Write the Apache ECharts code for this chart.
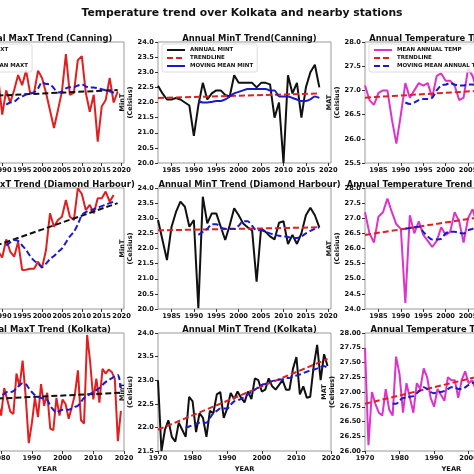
<!DOCTYPE html>
<html><head><meta charset="utf-8">
<script src="https://cdn.jsdelivr.net/npm/echarts@6/dist/echarts.min.js"></script>
<style>html,body{margin:0;padding:0;background:#fff;overflow:hidden;width:474px;height:474px;position:relative}#c{position:absolute;left:-70px;top:0;width:620px;height:474px}</style>
</head><body><div id="c"></div>
<script>
// ---- data (values per year) ----
const canMaxStart = 1982;
const canMax = [32.0,32.4,31.9,32.2,32.5,31.8,32.1,32.6,31.7,32.3,32.0,32.31,32.68,32.43,32.79,32.24,32.24,32.79,32.61,32.24,31.81,31.37,31.81,32.27,33.2,32.19,32.24,33.05,33.15,32.24,31.77,32.19,31.03,31.9,32.06,32.61,32.0,32.27];
const canMaxMMStart = 1991;
const canMaxMM = [31.95,32.0,32.02,32.1,32.15,32.2,32.22,32.25,32.35,32.5,32.46,32.45,32.35,32.25,32.27,32.35,32.38,32.38,32.42,32.45,32.4,32.37,32.37,32.35,32.33,32.3,32.28,32.25,32.27];
const canMaxTrend = [[1982,32.14],[2019,32.31]];

const canMinStart = 1982;
const canMin = [22.55,22.3,22.1,22.1,22.15,22.1,22.0,21.9,20.9,21.9,22.65,22.1,22.3,22.4,22.4,22.25,22.2,22.9,22.65,22.65,22.65,22.65,22.5,22.65,22.65,22.6,21.5,22.0,20.0,22.9,22.3,22.65,21.5,22.5,23.0,23.25,22.5];
const canMinMMStart = 1991;
const canMinMM = [22.05,22.0,22.0,22.02,22.05,22.05,22.1,22.2,22.3,22.35,22.4,22.45,22.45,22.45,22.45,22.45,22.4,22.4,22.2,22.2,22.2,22.15,22.1,22.05,22.05,22.1,22.2,22.15];
const canMinTrend = [[1982,22.15],[2018,22.3]];

const canMatStart = 1982;
const canMat = [27.1,26.8,26.7,26.95,27.0,27.0,26.4,25.9,26.5,27.15,26.85,27.0,27.15,27.1,27.15,26.85,27.3,27.35,27.2,27.2,27.1,26.8,26.85,27.45,27.3,27.0,27.2,26.9,27.1,27.3,26.8,27.0,27.2,27.4,26.9,27.1,27.2];
const canMatMMStart = 1991;
const canMatMM = [26.75,26.72,26.75,26.8,26.82,26.82,26.85,27.0,27.1,27.12,27.15,27.12,27.1,27.1,27.12,27.12,27.1,27.1,27.12,27.12,27.1,27.1,27.12,27.1,27.1,27.12,27.12,27.13];
const canMatTrend = [[1982,26.85],[2018,27.05]];

const dhMaxStart = 1982;
const dhMax = [31.5,32.0,31.2,31.8,31.6,32.1,31.4,31.9,31.7,32.3,31.9,31.73,32.22,31.29,31.3,31.33,31.33,31.56,31.36,31.95,33.16,32.72,32.94,33.05,33.6,33.05,32.94,33.99,33.8,33.27,33.44,33.16,33.66,33.66,33.88,33.55,33.77];
const dhMaxMMStart = 1991;
const dhMaxMM = [32.1,32.2,32.28,32.25,32.1,31.95,31.75,31.6,31.5,31.38,31.5,31.65,31.75,31.88,32.0,32.2,32.4,32.55,32.8,33.1,33.2,33.25,33.3,33.35,33.4,33.45,33.5,33.55];
const dhMaxTrend = [[1982,31.8],[2019,33.5]];

const dhMinStart = 1982;
const dhMin = [22.94,22.28,21.62,22.7,23.2,23.55,23.38,22.72,22.94,20.03,23.71,22.83,23.16,23.16,22.72,22.28,22.77,23.33,23.1,22.83,22.7,22.6,20.9,22.66,22.55,22.4,22.3,22.85,22.9,22.15,22.45,22.15,22.5,23.1,23.35,23.1,22.7];
const dhMinMMStart = 1991;
const dhMinMM = [22.45,22.55,22.65,22.8,22.8,22.7,22.65,22.65,22.65,22.75,22.9,22.9,22.75,22.6,22.6,22.55,22.5,22.45,22.42,22.4,22.38,22.35,22.35,22.4,22.5,22.58,22.65,22.7];
const dhMinTrend = [[1982,22.6],[2018,22.7]];

const dhMatStart = 1982;
const dhMat = [27.2,26.5,26.2,27.05,27.2,27.65,27.2,26.8,26.65,24.2,27.1,26.5,26.9,26.45,26.25,26.05,26.25,26.7,26.45,26.55,27.2,26.9,26.2,27.0,27.3,26.8,27.1,26.6,27.2,26.9,27.4,26.7,27.1,27.3,26.9,27.2,27.0];
const dhMatMMStart = 1991;
const dhMatMM = [26.65,26.68,26.7,26.72,26.55,26.4,26.3,26.3,26.32,26.5,26.55,26.55,26.52,26.5,26.6,26.65,26.7,26.75,26.8,26.85,26.9,26.95,27.0,27.0,27.05,27.05,27.05,27.05];
const dhMatTrend = [[1982,26.45],[2018,27.27]];

const kolMaxStart = 1970;
const kolMax = [32.3,31.8,32.6,32.0,32.4,31.9,32.7,32.1,32.5,32.2,31.9,32.6,32.3,32.0,31.94,32.97,32.64,33.3,32.39,31.2,31.7,32.35,31.86,32.7,32.15,32.48,31.57,31.53,32.35,31.9,32.31,32.19,31.82,32.11,32.43,33.05,31.78,31.7,33.95,33.25,32.31,32.84,32.23,33.09,32.97,33.07,33.01,32.84,31.25,32.02];
const kolMaxMMStart = 1978;
const kolMaxMM = [32.3,32.35,32.4,32.45,32.5,32.5,32.52,32.6,32.67,32.72,32.7,32.6,32.5,32.42,32.38,32.35,32.33,32.3,32.15,32.05,31.98,32.02,32.05,32.05,32.05,32.08,32.12,32.15,32.25,32.35,32.4,32.45,32.5,32.55,32.6,32.68,32.75,32.8,32.85,32.9,32.93,32.6];
const kolMaxTrend = [[1970,32.3],[2019,32.48]];

const kolMinStart = 1970;
const kolMin = [23.0,21.5,21.95,22.15,21.8,21.7,22.1,21.95,21.8,22.65,22.55,21.9,22.3,22.2,21.8,22.35,22.3,22.7,22.75,22.2,22.4,22.73,22.6,22.76,22.63,22.53,22.76,22.6,23.04,23.0,22.76,22.8,23.04,22.87,22.8,22.9,23.0,22.8,22.8,23.24,23.49,22.7,22.87,22.63,22.65,23.3,23.75,23.0,23.55,23.3];
const kolMinMMStart = 1978;
const kolMinMM = [22.0,22.02,22.05,22.08,22.1,22.1,22.1,22.2,22.3,22.35,22.4,22.4,22.4,22.48,22.55,22.58,22.6,22.65,22.7,22.75,22.8,22.85,22.9,22.92,22.95,22.98,23.0,23.01,23.02,23.04,23.05,23.08,23.1,23.12,23.15,23.18,23.2,23.22,23.25,23.28,23.3,23.25];
const kolMinTrend = [[1970,21.95],[2019,23.45]];

const kolMatStart = 1970;
const kolMat = [27.75,26.1,27.0,26.8,26.65,26.6,27.05,26.7,26.6,27.6,27.3,26.65,27.15,26.9,26.65,27.15,27.05,27.4,27.25,26.9,26.75,27.05,26.95,26.85,27.25,27.2,27.2,26.9,27.2,27.35,27.15,27.2,27.05,27.3,27.1,27.25,27.4,27.15,27.05,27.5,27.55,27.1,27.3,27.0,27.2,27.45,27.7,27.2,27.5,27.35];
const kolMatMMStart = 1978;
const kolMatMM = [26.8,26.8,26.85,26.9,26.9,26.92,26.93,26.98,27.03,27.08,27.05,27.0,26.98,27.0,27.0,27.02,27.05,27.08,27.08,27.05,27.05,27.08,27.12,27.15,27.17,27.18,27.2,27.2,27.22,27.24,27.25,27.27,27.28,27.3,27.3,27.32,27.33,27.34,27.35,27.35,27.36,27.35];
const kolMatTrend = [[1970,26.8],[2019,27.49]];

const titles = [
 ['Annual MaxT Trend (Canning)','Annual MinT Trend(Canning)','Annual Temperature Trend (Canning)'],
 ['Annual MaxT Trend (Diamond Harbour)','Annual MinT Trend (Diamond Harbour)','Annual Temperature Trend (Diamond Harbour)'],
 ['Annual MaxT Trend (Kolkata)','Annual MinT Trend (Kolkata)','Annual Temperature Trend (Kolkata)']
];
const ticksA = [1985,1990,1995,2000,2005,2010,2015,2020];
const ticksB = [1970,1980,1990,2000,2010,2020];

// ---- layout (canvas is shifted left by OFF px) ----
const OFF = 70;
const colL = [-49+OFF,158+OFF,365+OFF], W = 173, rowT = [42,188,333], H = 121;
const FF = 'DejaVu Sans';
const pairs = (start, arr) => arr.map((v,i)=>[start+i, v]);

const panels = [
 {r:0,c:0,main:canMax,ms:canMaxStart,mm:canMaxMM,mms:canMaxMMStart,tr:canMaxTrend,col:'#e02020',trc:'#111',mmDash:true,ymin:30.5,ymax:33.5,yi:0.5,xr:[1982,2020.6],xt:ticksA,yname:'MaxT\n(Celsius)',names:['ANNUAL MAXT','TRENDLINE\u200b','MOVING MEAN MAXT']},
 {r:0,c:1,main:canMin,ms:canMinStart,mm:canMinMM,mms:canMinMMStart,tr:canMinTrend,col:'#111',trc:'#e02020',mmDash:false,ymin:20,ymax:24,yi:0.5,xr:[1982,2020.6],xt:ticksA,yname:'MinT\n(Celsius)',names:['ANNUAL MINT','TRENDLINE','MOVING MEAN MINT']},
 {r:0,c:2,main:canMat,ms:canMatStart,mm:canMatMM,mms:canMatMMStart,tr:canMatTrend,col:'#dd33cc',trc:'#e02020',mmDash:true,ymin:25.5,ymax:28,yi:0.5,xr:[1982,2020.6],xt:ticksA,yname:'MAT\n(Celsius)',names:['MEAN ANNUAL TEMP','TRENDLINE\u200b\u200b','MOVING MEAN ANNUAL TEMP']},
 {r:1,c:0,main:dhMax,ms:dhMaxStart,mm:dhMaxMM,mms:dhMaxMMStart,tr:dhMaxTrend,col:'#e02020',trc:'#111',mmDash:true,ymin:30,ymax:34,yi:0.5,xr:[1982,2020.6],xt:ticksA,yname:'MaxT\n(Celsius)'},
 {r:1,c:1,main:dhMin,ms:dhMinStart,mm:dhMinMM,mms:dhMinMMStart,tr:dhMinTrend,col:'#111',trc:'#e02020',mmDash:true,ymin:20,ymax:24,yi:0.5,xr:[1982,2020.6],xt:ticksA,yname:'MinT\n(Celsius)'},
 {r:1,c:2,main:dhMat,ms:dhMatStart,mm:dhMatMM,mms:dhMatMMStart,tr:dhMatTrend,col:'#dd33cc',trc:'#e02020',mmDash:true,ymin:24,ymax:28,yi:0.5,xr:[1982,2020.6],xt:ticksA,yname:'MAT\n(Celsius)'},
 {r:2,c:0,main:kolMax,ms:kolMaxStart,mm:kolMaxMM,mms:kolMaxMMStart,tr:kolMaxTrend,col:'#e02020',trc:'#111',mmDash:true,ymin:31,ymax:34,yi:0.5,xr:[1970,2020],xt:ticksB,yname:'MaxT\n(Celsius)',xname:'YEAR'},
 {r:2,c:1,main:kolMin,ms:kolMinStart,mm:kolMinMM,mms:kolMinMMStart,tr:kolMinTrend,col:'#111',trc:'#e02020',mmDash:true,ymin:21.5,ymax:24,yi:0.5,xr:[1970,2020],xt:ticksB,yname:'MinT\n(Celsius)',xname:'YEAR'},
 {r:2,c:2,main:kolMat,ms:kolMatStart,mm:kolMatMM,mms:kolMatMMStart,tr:kolMatTrend,col:'#dd33cc',trc:'#e02020',mmDash:true,ymin:26,ymax:28,yi:0.25,yfmt:v=>v.toFixed(2),xr:[1970,2020],xt:ticksB,yname:'MAT\n(Celsius)',xname:'YEAR'}
];

const grid=[],xAxis=[],yAxis=[],series=[],title=[{text:'Temperature trend over Kolkata and nearby stations',left:237+OFF,top:3,textAlign:'center',textStyle:{fontFamily:FF,fontSize:10.8,fontWeight:'bold',color:'#111'}}],legend=[];
const lab = {fontFamily:FF,fontSize:6.7,fontWeight:'bold',color:'#111'};
panels.forEach((p,i)=>{
  grid.push({left:colL[p.c],top:rowT[p.r],height:H,width:W,show:true,borderColor:'#999',borderWidth:1,backgroundColor:'transparent'});
  xAxis.push({type:'value',gridIndex:i,min:p.xr[0],max:p.xr[1],axisLine:{show:false},splitLine:{show:false},
    axisTick:{show:true,length:3,lineStyle:{color:'#333'},customValues:p.xt},
    axisLabel:Object.assign({},lab,{margin:4,customValues:p.xt,formatter:v=>String(Math.round(v))}),
    name:p.xname||'',nameLocation:'middle',nameGap:15,nameTextStyle:Object.assign({},lab)});
  yAxis.push({type:'value',gridIndex:i,min:p.ymin,max:p.ymax,interval:p.yi,axisLine:{show:false},splitLine:{show:false},
    axisTick:{show:true,length:3,lineStyle:{color:'#333'}},
    axisLabel:Object.assign({},lab,{margin:4,formatter:p.yfmt||(v=>v.toFixed(1))}),
    name:p.yname||'',nameLocation:'middle',nameRotate:90,nameGap:p.yi===0.25?29:23,nameTextStyle:Object.assign({},lab,{fontSize:6.5,lineHeight:7.5})});
  const nm = p.names||['a'+i,'b'+i,'c'+i];
  series.push({type:'line',name:nm[0],xAxisIndex:i,yAxisIndex:i,data:pairs(p.ms,p.main),symbol:'none',lineStyle:{color:p.col,width:2},itemStyle:{color:p.col},z:2});
  series.push({type:'line',name:nm[1],xAxisIndex:i,yAxisIndex:i,data:p.tr,symbol:'none',lineStyle:{color:p.trc,width:2,type:[6,3]},itemStyle:{color:p.trc},z:3});
  series.push({type:'line',name:nm[2],xAxisIndex:i,yAxisIndex:i,data:pairs(p.mms,p.mm),symbol:'none',smooth:0.3,lineStyle:{color:'#1a1acc',width:2,type:p.mmDash?[6,3]:'solid'},itemStyle:{color:'#1a1acc'},z:4});
  title.push({text:titles[p.r][p.c],left:colL[p.c]+W/2,top:rowT[p.r]-12,textAlign:'center',textStyle:{fontFamily:FF,fontSize:8.4,fontWeight:'bold',color:'#111'}});
  if(p.names){
    legend.push({data:p.names,orient:'vertical',left:colL[p.c]+(p.c===0?-16:4),top:rowT[p.r]+2,itemGap:2,itemWidth:18,itemHeight:6,
      padding:[3,4],backgroundColor:'rgba(255,255,255,0.8)',borderColor:'#ddd',borderWidth:1,borderRadius:2,selectedMode:false,
      itemStyle:{opacity:0},
      textStyle:{fontFamily:FF,fontSize:5.5,fontWeight:'bold',color:'#111'}});
  }
});

const chart = echarts.init(document.getElementById('c'),null,{renderer:'canvas'});
chart.setOption({animation:false,backgroundColor:'#fff',title,grid,xAxis,yAxis,series,legend});
</script></body></html>
